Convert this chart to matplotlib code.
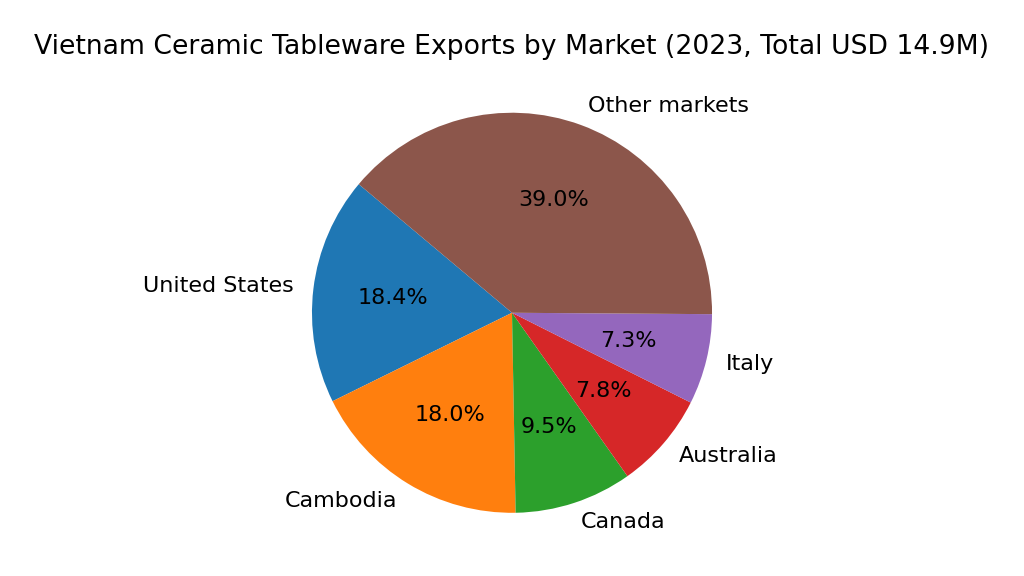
import matplotlib
matplotlib.use("Agg")
import matplotlib.pyplot as plt

labels = ["United States", "Cambodia", "Canada", "Australia", "Italy", "Other markets"]
shares = [18.4, 18.0, 9.5, 7.8, 7.3, 39.0]

fig = plt.figure(figsize=(6.4, 3.6), dpi=160)
ax = fig.add_axes([0.0, 0.075, 1.0, 0.764])
ax.pie(shares, labels=labels, autopct="%1.1f%%", startangle=140)
ax.set_xlim(-1.1, 1.1)
ax.set_ylim(-1.1, 1.1)
ax.set_aspect("equal", adjustable="box")
fig.text(0.5, 0.918, "Vietnam Ceramic Tableware Exports by Market (2023, Total USD 14.9M)",
         ha="center", va="center", fontsize=12)
fig.savefig("out.png", dpi=160)
